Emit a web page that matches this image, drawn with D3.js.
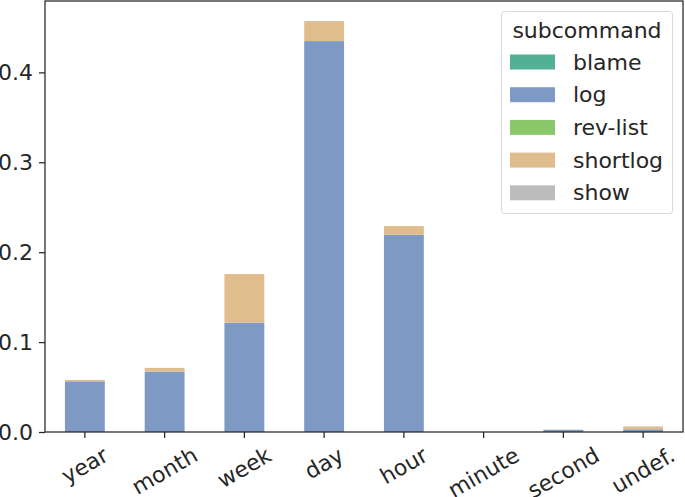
<!DOCTYPE html>
<html>
<head>
<meta charset="utf-8">
<script src="https://cdn.jsdelivr.net/npm/d3@7"></script>
<style>
  html, body { margin: 0; padding: 0; background: #fff; }
  svg { display: block; font-family: "DejaVu Sans", sans-serif; }
</style>
</head>
<body>
<svg id="chart" width="685" height="497"></svg>
<script>
const categories = ["year", "month", "week", "day", "hour", "minute", "second", "undef."];
const seriesNames = ["blame", "log", "rev-list", "shortlog", "show"];
const blame   = [0, 0, 0, 0, 0, 0, 0, 0];
const log     = [0.0564, 0.0672, 0.1216, 0.4348, 0.2193, 0, 0.0025, 0.003];
const revList = [0, 0, 0, 0, 0, 0, 0, 0];
const shortlog= [0.0015, 0.0041, 0.0541, 0.0222, 0.0097, 0, 0, 0.0032];
const show    = [0, 0, 0, 0, 0, 0, 0, 0];
const yTicks  = [0.0, 0.1, 0.2, 0.3, 0.4];
const colors  = ["#52b095", "#7f99c5", "#8bc86b", "#e0bd8c", "#bcbcbc"];

const seriesValues = [blame, log, revList, shortlog, show];
const rows = categories.map((c, i) => {
  const r = { cat: c };
  seriesNames.forEach((s, j) => r[s] = seriesValues[j][i]);
  return r;
});

const FS = 22;
const svg = d3.select("#chart");
const mLeft = 45, mRight = 683, mTop = 1, mBottom = 432;

const x = d3.scaleBand().domain(categories).range([mLeft, mRight]).paddingInner(0).paddingOuter(0);
const y = d3.scaleLinear().domain([0, 0.4794]).range([mBottom, mTop]);

const stacked = d3.stack().keys(seriesNames)(rows);
const barW = x.bandwidth() * 0.5;

svg.append("g").selectAll("g").data(stacked).join("g")
  .attr("fill", (d, i) => colors[i])
  .selectAll("rect").data(d => d).join("rect")
  .attr("x", d => x(d.data.cat) + (x.bandwidth() - barW) / 2)
  .attr("width", barW)
  .attr("y", d => y(d[1]))
  .attr("height", d => Math.max(0, y(d[0]) - y(d[1])));

// frame
svg.append("rect").attr("x", mLeft).attr("y", mTop).attr("width", mRight - mLeft).attr("height", mBottom - mTop)
  .attr("fill", "none").attr("stroke", "#262626").attr("stroke-width", 1.25);

// y axis
const yAxis = d3.axisLeft(y).tickValues(yTicks).tickFormat(d3.format(".1f")).tickSize(6).tickPadding(6);
const gy = svg.append("g").attr("transform", `translate(${mLeft},0)`).call(yAxis);
gy.select(".domain").remove();
gy.selectAll(".tick line").attr("stroke", "#262626").attr("stroke-width", 1.25);
gy.selectAll(".tick text").attr("fill", "#262626").style("font-size", FS + "px").style("font-family", "DejaVu Sans");

// x axis
const xAxis = d3.axisBottom(x).tickSize(6).tickFormat(d => d);
const gx = svg.append("g").attr("transform", `translate(0,${mBottom})`).call(xAxis);
gx.select(".domain").remove();
gx.selectAll(".tick line").attr("stroke", "#262626").attr("stroke-width", 1.25);
gx.selectAll(".tick text").each(function() {
  const t = d3.select(this);
  t.style("font-size", FS + "px").style("font-family", "DejaVu Sans").attr("fill", "#262626")
    .attr("text-anchor", "middle").attr("dy", null).attr("y", null).attr("dominant-baseline", "central");
  const w = this.getComputedTextLength();
  const h = FS * 1.17;
  const bh = w * 0.5 + h * 0.866;
  const cy = 10 + bh / 2;
  t.attr("transform", `translate(0,${cy}) rotate(-30)`);
});

// legend
const lg = svg.append("g");
lg.append("rect").attr("x", 501.5).attr("y", 11.5).attr("width", 171).attr("height", 202)
  .attr("rx", 3).attr("fill", "#fff").attr("fill-opacity", 0.8).attr("stroke", "#d9d9d9");
lg.append("text").attr("x", 587).attr("y", 30).attr("text-anchor", "middle").attr("dominant-baseline", "central")
  .style("font-size", FS + "px").attr("fill", "#262626").text("subcommand");
seriesNames.forEach((s, i) => {
  const cy = 62 + i * 32.7;
  lg.append("rect").attr("x", 510).attr("y", cy - 7.5).attr("width", 45).attr("height", 15).attr("fill", colors[i]);
  lg.append("text").attr("x", 573).attr("y", cy).attr("dominant-baseline", "central")
    .style("font-size", FS + "px").attr("fill", "#262626").text(s);
});
</script>
</body>
</html>
